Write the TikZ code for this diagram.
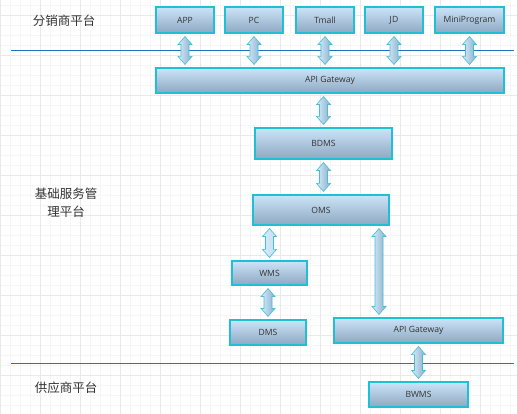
\documentclass[tikz,border=0pt]{standalone}
\usepackage{fontspec}
\setmainfont{Open Sans}
\newfontfamily\cjk{Noto Sans CJK SC}
\usetikzlibrary{calc}

\definecolor{boxline}{HTML}{1FC0D6}
\definecolor{boxtop}{HTML}{CCE4F8}
\definecolor{boxbot}{HTML}{8DA8C2}
\definecolor{arrline}{HTML}{45BFD6}
\definecolor{arrleft}{HTML}{D6ECFB}
\definecolor{arrright}{HTML}{8BADCB}
\definecolor{sepline}{HTML}{2470C4}
\definecolor{txt}{HTML}{333333}
\definecolor{gridminor}{HTML}{F6F6F6}
\definecolor{gridmajor}{HTML}{E9E9E9}

\begin{document}
\begin{tikzpicture}[x=1pt, y=-1pt,
  box/.style={draw=boxline, line width=1.1pt, top color=boxtop, bottom color=boxbot, text=txt, font=\fontsize{8.6}{10}\selectfont, inner sep=0pt},
  tier/.style={text=txt, font=\cjk\fontsize{12.5}{18}\selectfont, align=center},
  fatarrow/.style={draw=arrline, line width=0.6pt, left color=arrleft, right color=arrright,
    to path={let \p1=(\tikztostart), \p2=(\tikztotarget) in
      (\x2,\y1-3pt) -- (\x2+7pt,\y1-11pt) -- (\x2+4pt,\y1-11pt) -- (\x2+4pt,\y2+11pt) -- (\x2+7pt,\y2+11pt)
      -- (\x2,\y2+3pt) -- (\x2-7pt,\y2+11pt) -- (\x2-4pt,\y2+11pt) -- (\x2-4pt,\y1-11pt) -- (\x2-7pt,\y1-11pt) -- cycle}}]
	\useasboundingbox (0,0) rectangle (517,414);
	\fill[white] (0,0) rectangle (517,414);
	% grid
	\foreach \gx in {0,10,...,510} \draw[gridminor, line width=0.6pt] (\gx,0) -- (\gx,414);
	\foreach \gy in {5,15,...,405} \draw[gridminor, line width=0.6pt] (0,\gy) -- (517,\gy);
	\foreach \gx in {0,40,...,480} \draw[gridmajor, line width=0.6pt] (\gx,0) -- (\gx,414);
	\foreach \gy in {15,55,...,375} \draw[gridmajor, line width=0.6pt] (0,\gy) -- (517,\gy);

	\draw[sepline, line width=0.8pt] (11,50) -- (514,50);
	\draw[sepline, line width=0.8pt] (11,363) -- (514,363);

	\node[tier] (dist) at (64,21) {分销商平台};
	\node[tier] (base) at (66,203) {基础服务管\\理平台};
	\node[tier] (supp) at (66,388) {供应商平台};

	\node[box, minimum width=58pt, minimum height=26pt] (app) at (185,20) {APP};
	\node[box, minimum width=58pt, minimum height=26pt] (pc) at (254,20) {PC};
	\node[box, minimum width=58pt, minimum height=26pt] (tmall) at (325,20) {Tmall};
	\node[box, minimum width=58pt, minimum height=26pt] (jd) at (394,20) {JD};
	\node[box, minimum width=69pt, minimum height=26pt] (mini) at (469.5,20) {MiniProgram};
	\node[box, minimum width=348pt, minimum height=25pt] (gw) at (330,80.5) {API Gateway};
	\node[box, minimum width=137pt, minimum height=31pt] (bdms) at (323.5,143.5) {BDMS};
	\node[box, minimum width=136pt, minimum height=30pt] (oms) at (321,210) {OMS};
	\node[box, minimum width=75pt, minimum height=24pt] (wms) at (269.5,273) {WMS};
	\node[box, minimum width=76pt, minimum height=25pt] (dms) at (268,332.5) {DMS};
	\node[box, minimum width=169pt, minimum height=25pt] (gw2) at (418.5,330.5) {API Gateway};
	\node[box, minimum width=99pt, minimum height=25pt] (bwms) at (418.5,394.5) {BWMS};
	\coordinate (longx) at (379,0);

	\draw[fatarrow] (app.south) to (gw.north -| app.south);
	\draw[fatarrow] (pc.south) to (gw.north -| pc.south);
	\draw[fatarrow] (tmall.south) to (gw.north -| tmall.south);
	\draw[fatarrow] (jd.south) to (gw.north -| jd.south);
	\draw[fatarrow] (mini.south) to (gw.north -| mini.south);
	\draw[fatarrow] (gw.south) to (bdms.north);
	\draw[fatarrow] (bdms.south) to (oms.north -| bdms.north);
	\draw[fatarrow] (oms.south) to (wms.north);
	\draw[fatarrow] (wms.south) to (dms.north);
	\draw[fatarrow] (oms.south -| longx) to (gw2.north -| longx);
	\draw[fatarrow] (gw2.south) to (bwms.north);
\end{tikzpicture}
\end{document}
